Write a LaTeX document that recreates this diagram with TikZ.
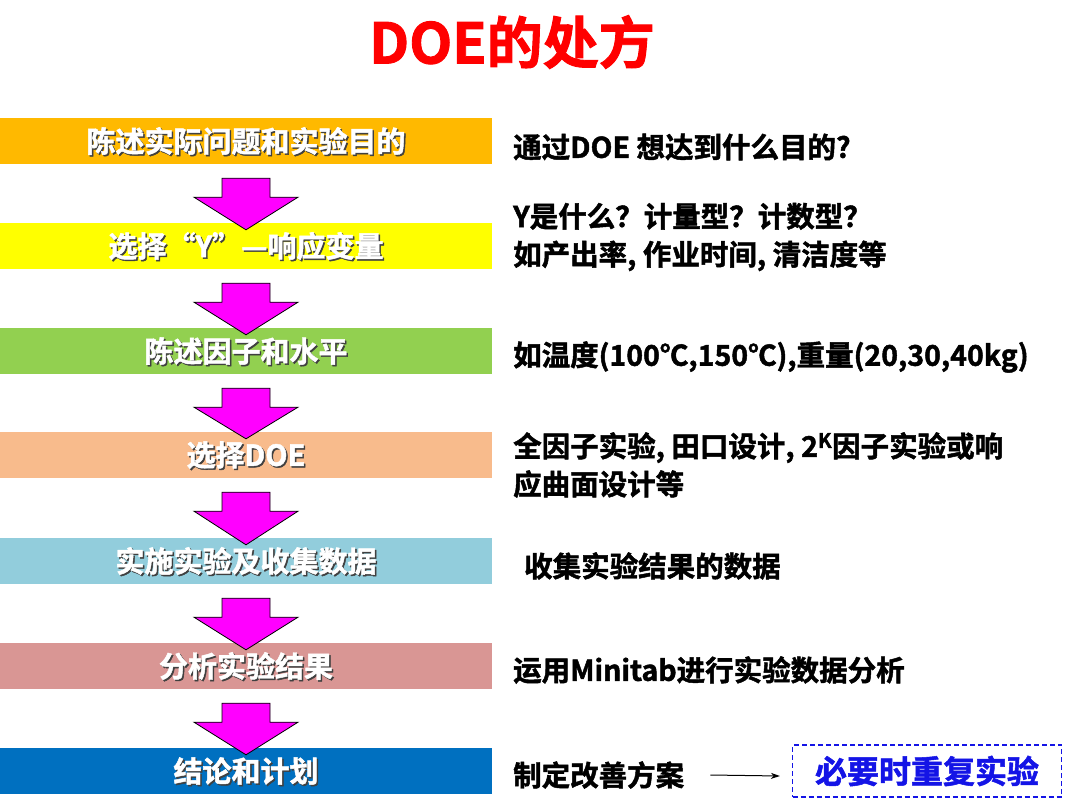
\documentclass[tikz,border=0pt]{standalone}
\usepackage{fontspec}
\setmainfont{Noto Sans CJK SC}[BoldFont={Noto Sans CJK SC Bold}, BoldFeatures={FakeBold=1.6}]
\usetikzlibrary{calc,positioning,arrows.meta}

\definecolor{barA}{RGB}{255,185,0}
\definecolor{barB}{RGB}{255,255,0}
\definecolor{barC}{RGB}{146,208,80}
\definecolor{barD}{RGB}{248,187,140}
\definecolor{barE}{RGB}{146,205,220}
\definecolor{barF}{RGB}{217,150,148}
\definecolor{barG}{RGB}{0,112,192}
\definecolor{arrowpink}{RGB}{255,0,255}
\definecolor{repeatblue}{RGB}{20,20,230}

\tikzset{
  bar/.style={minimum width=492pt, minimum height=46pt, inner sep=0pt},
  bartext/.style={text=white, font=\bfseries\fontsize{29}{34}\selectfont, inner sep=0pt},
  note/.style={anchor=west, align=left, inner sep=0pt, font=\bfseries\fontsize{28.5}{38}\selectfont},
  flowarrow/.style={draw=black, fill=arrowpink, line width=0.8pt, line join=miter},
}

\begin{document}
\begin{tikzpicture}[x=1pt, y=1pt]
  \useasboundingbox (0,0) rectangle (1080,-800);

  \node[text=red, font=\bfseries\fontsize{56}{60}\selectfont] (title) at (512,-42) {DOE的处方};

  % steps on the left
  \foreach \i/\yy/\col/\txt in {1/141/barA/陈述实际问题和实验目的, 2/246/barB/选择“Y”—响应变量,
      3/351/barC/陈述因子和水平, 4/455/barD/选择DOE, 5/561/barE/实施实验及收集数据,
      6/666/barF/分析实验结果, 7/771/barG/结论和计划}{
    \node[bar, fill=\col] (bar\i) at (246,-\yy) {};
    \node[bartext, text=black!75, xshift=1.5pt, yshift=-1.5pt] (shade\i) at (bar\i) {\txt};
    \node[bartext] (label\i) at (bar\i) {\txt};
  }

  \foreach \i [evaluate=\i as \j using int(\i+1)] in {1,...,6}
    \draw[flowarrow] ($(bar\i.south)+(-24,-14)$) -- ++(48,0) -- ++(0,-19) -- ++(28,0)
      -- ($(bar\j.north)+(0,-7)$) -- ($(bar\i.south)+(-52,-33)$) -- ++(28,0) -- cycle;

  % notes on the right
  \node[note] (note1) at (513,-147) {通过DOE 想达到什么目的?};
  \node[note] (note2) at (513,-237) {Y是什么？计量型？计数型？\\如产出率, 作业时间, 清洁度等};
  \node[note] (note3) at (513,-357) {如温度(100℃,150℃),重量(20,30,40kg)};
  \node[note] (note4) at (513,-465) {全因子实验, 田口设计, 2\textsuperscript{K}因子实验或响\\应曲面设计等};
  \node[note] (note5) at (524,-566) {收集实验结果的数据};
  \node[note] (note6) at (513,-670) {运用Minitab进行实验数据分析};
  \node[note] (note7) at (513,-775) {制定改善方案};

  \node[draw=repeatblue, dash pattern=on 5pt off 3pt, line width=1.2pt, minimum width=269pt, minimum height=52pt,
        text=repeatblue, font=\bfseries\fontsize{32}{36}\selectfont] (repeat) at (927,-771) {必要时重复实验};
  \draw[-{Stealth[length=9pt,width=6pt]}, line width=1pt] ([xshift=26pt]note7.east) -- ([xshift=-12pt,yshift=-5pt]repeat.west);
\end{tikzpicture}
\end{document}
